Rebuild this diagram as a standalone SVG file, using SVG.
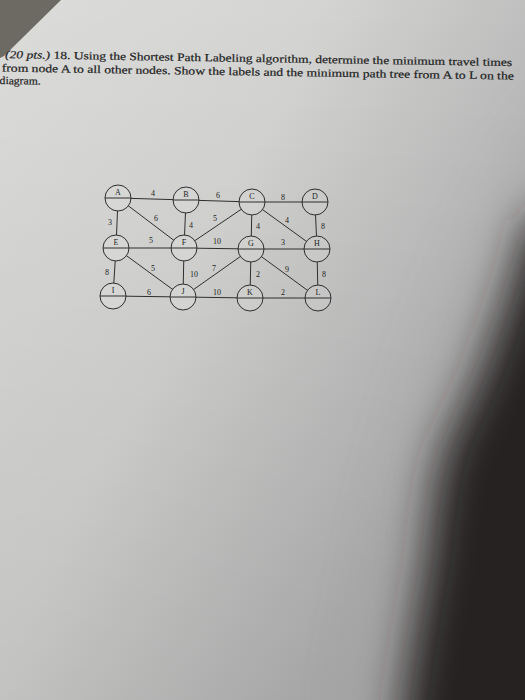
<svg xmlns="http://www.w3.org/2000/svg" width="525" height="700" viewBox="0 0 525 700">
<defs>
<linearGradient id="bg" gradientUnits="userSpaceOnUse" x1="0" y1="0" x2="525" y2="250">
<stop offset="0" stop-color="#dcdcda"/>
<stop offset="0.5" stop-color="#d4d5d3"/>
<stop offset="1" stop-color="#b3b4b3"/>
</linearGradient>
<linearGradient id="lowshade" x1="0" y1="0" x2="0" y2="1">
<stop offset="0" stop-color="#000" stop-opacity="0"/>
<stop offset="1" stop-color="#000" stop-opacity="0.08"/>
</linearGradient>
<filter id="blur" x="-50%" y="-50%" width="200%" height="200%"><feGaussianBlur stdDeviation="22"/></filter>
<filter id="blur2" x="-50%" y="-50%" width="200%" height="200%"><feGaussianBlur stdDeviation="45"/></filter>
<style>
.t{font-family:"Liberation Serif","Times New Roman",serif;font-size:11px;fill:#1e1e1e;stroke:#1e1e1e;stroke-width:0.2}
.e{stroke:#2e2e2e;stroke-width:1;fill:none}
.n{stroke:#2e2e2e;stroke-width:1;fill:url(#bg)}
.lb{font-family:"Liberation Serif","Times New Roman",serif;font-size:8px;fill:#222;text-anchor:middle}
.w{font-family:"Liberation Serif","Times New Roman",serif;font-size:8px;fill:#222;text-anchor:middle}
</style>
</defs>
<rect width="525" height="700" fill="url(#bg)"/>
<rect width="525" height="700" fill="url(#lowshade)"/>
<path d="M600 120 C520 240 480 350 450 450 C430 530 410 620 390 760 L700 760 L700 120 Z" fill="#8a8a8a" opacity="0.6" filter="url(#blur2)"/>
<path d="M530 220 C515 290 500 320 492 345 C475 395 455 425 446 448 C436 480 432 520 429 550 C422 600 408 660 398 760 L700 760 L700 220 Z" fill="#262422" filter="url(#blur)"/>
<path d="M0 0 L61 0 L4 56 L0 58 Z" fill="#6d6a64"/>

<g id="question" transform="rotate(0.9 0 58)">
<text class="t" x="5" y="58" textLength="507" lengthAdjust="spacingAndGlyphs"><tspan font-style="italic">(20 pts.)</tspan> 18. Using the Shortest Path Labeling algorithm, determine the minimum travel times</text>
<text class="t" x="2" y="71.5" textLength="512" lengthAdjust="spacingAndGlyphs">from node A to all other nodes. Show the labels and the minimum path tree from A to L on the</text>
<text class="t" x="0" y="84" textLength="41" lengthAdjust="spacingAndGlyphs">diagram.</text>
</g>

<g id="connectors">
<polyline class="e" points="105,198 118,198 186,200 252,202 315,202 328,202"/>
<polyline class="e" points="103,248 116,248 184,248 251,249 317,249 330,249"/>
<polyline class="e" points="100,296 113,296 183,297 250,298 318,298 331,298"/>
<line class="e" x1="118" y1="198" x2="116" y2="248"/>
<line class="e" x1="118" y1="198" x2="184" y2="248"/>
<line class="e" x1="186" y1="200" x2="184" y2="248"/>
<line class="e" x1="184" y1="248" x2="252" y2="202"/>
<line class="e" x1="252" y1="202" x2="251" y2="249"/>
<line class="e" x1="252" y1="202" x2="317" y2="249"/>
<line class="e" x1="315" y1="202" x2="317" y2="249"/>
<line class="e" x1="116" y1="248" x2="113" y2="296"/>
<line class="e" x1="116" y1="248" x2="183" y2="297"/>
<line class="e" x1="184" y1="248" x2="183" y2="297"/>
<line class="e" x1="183" y1="297" x2="251" y2="249"/>
<line class="e" x1="251" y1="249" x2="250" y2="298"/>
<line class="e" x1="251" y1="249" x2="318" y2="298"/>
<line class="e" x1="317" y1="249" x2="318" y2="298"/>
<g id="weights">
<text class="w" x="153" y="196">4</text>
<text class="w" x="218" y="198">6</text>
<text class="w" x="283" y="200">8</text>
<text class="w" x="110" y="225">3</text>
<text class="w" x="156" y="221">6</text>
<text class="w" x="191" y="228">4</text>
<text class="w" x="215" y="221">5</text>
<text class="w" x="258" y="229">4</text>
<text class="w" x="287" y="223">4</text>
<text class="w" x="323" y="229">8</text>
<text class="w" x="151" y="243">5</text>
<text class="w" x="217" y="244">10</text>
<text class="w" x="283" y="245">3</text>
<text class="w" x="107" y="275">8</text>
<text class="w" x="153" y="271">5</text>
<text class="w" x="194" y="277">10</text>
<text class="w" x="214" y="271">7</text>
<text class="w" x="258" y="277">2</text>
<text class="w" x="287" y="272">9</text>
<text class="w" x="324" y="277">8</text>
<text class="w" x="149" y="295">6</text>
<text class="w" x="217" y="295">10</text>
<text class="w" x="283" y="295">2</text>
</g>
</g>

<g id="node-A"><circle class="n" cx="118" cy="198" r="13"/><line class="e" x1="105" y1="198" x2="131" y2="198"/><text class="lb" x="118" y="195">A</text></g>
<g id="node-B"><circle class="n" cx="186" cy="200" r="13"/><line class="e" x1="173" y1="200" x2="199" y2="200"/><text class="lb" x="186" y="197">B</text></g>
<g id="node-C"><circle class="n" cx="252" cy="202" r="13"/><line class="e" x1="239" y1="202" x2="265" y2="202"/><text class="lb" x="252" y="199">C</text></g>
<g id="node-D"><circle class="n" cx="315" cy="202" r="13"/><line class="e" x1="302" y1="202" x2="328" y2="202"/><text class="lb" x="315" y="199">D</text></g>
<g id="node-E"><circle class="n" cx="116" cy="248" r="13"/><line class="e" x1="103" y1="248" x2="129" y2="248"/><text class="lb" x="116" y="245">E</text></g>
<g id="node-F"><circle class="n" cx="184" cy="248" r="13"/><line class="e" x1="171" y1="248" x2="197" y2="248"/><text class="lb" x="184" y="245">F</text></g>
<g id="node-G"><circle class="n" cx="251" cy="249" r="13"/><line class="e" x1="238" y1="249" x2="264" y2="249"/><text class="lb" x="251" y="246">G</text></g>
<g id="node-H"><circle class="n" cx="317" cy="249" r="13"/><line class="e" x1="304" y1="249" x2="330" y2="249"/><text class="lb" x="317" y="246">H</text></g>
<g id="node-I"><circle class="n" cx="113" cy="296" r="13"/><line class="e" x1="100" y1="296" x2="126" y2="296"/><text class="lb" x="113" y="293">I</text></g>
<g id="node-J"><circle class="n" cx="183" cy="297" r="13"/><line class="e" x1="170" y1="297" x2="196" y2="297"/><text class="lb" x="183" y="294">J</text></g>
<g id="node-K"><circle class="n" cx="250" cy="298" r="13"/><line class="e" x1="237" y1="298" x2="263" y2="298"/><text class="lb" x="250" y="295">K</text></g>
<g id="node-L"><circle class="n" cx="318" cy="298" r="13"/><line class="e" x1="305" y1="298" x2="331" y2="298"/><text class="lb" x="318" y="295">L</text></g>
</svg>
